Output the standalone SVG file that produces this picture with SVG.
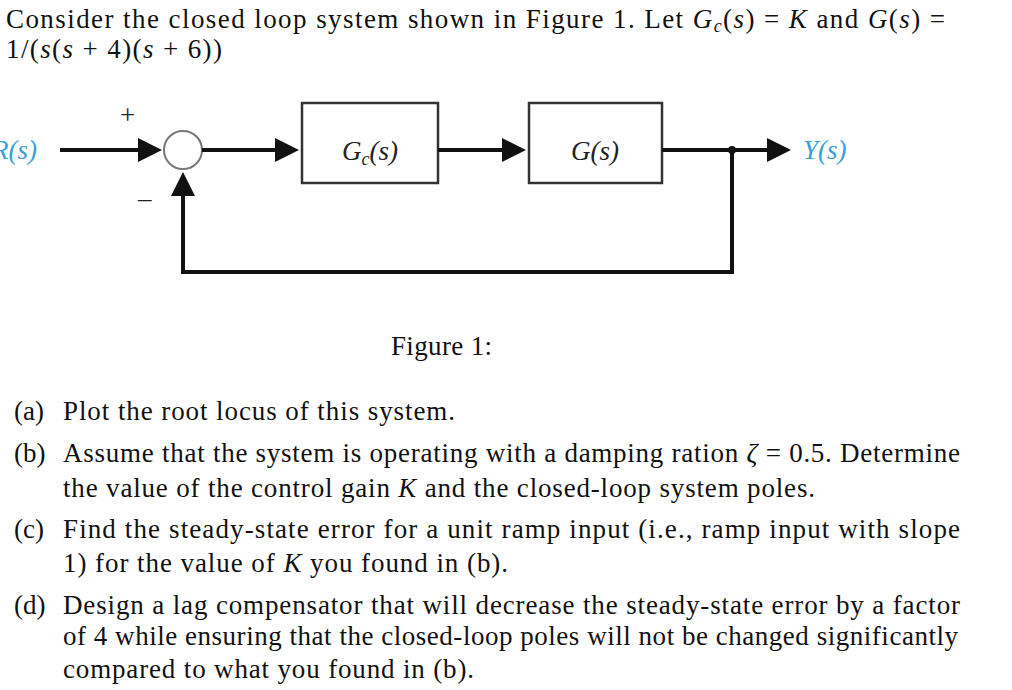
<svg xmlns="http://www.w3.org/2000/svg" width="1012" height="690" viewBox="0 0 1012 690">
<style>
.t{font-family:"Liberation Serif",serif;font-size:27px;fill:#111}
.d{font-family:"Liberation Serif",serif;font-size:27px;fill:#222}
.b{font-family:"Liberation Serif",serif;font-size:27px;fill:#3aa0d8;font-style:italic}
.l{stroke:#111;stroke-width:4;fill:none}
.box{stroke:#333;stroke-width:2.5;fill:#fff}
</style>
<defs><marker id="a" markerWidth="6" markerHeight="6" refX="5" refY="3" orient="auto" markerUnits="strokeWidth"><path d="M0,0L6,3L0,6Z" fill="#111"/></marker></defs>
<rect width="1012" height="690" fill="#fff"/>
<text class="t" x="6" y="28" textLength="939" lengthAdjust="spacing">Consider the closed loop system shown in Figure 1.  Let <tspan font-style="italic">G</tspan><tspan font-style="italic" font-size="18" dy="4">c</tspan><tspan dy="-4">(</tspan><tspan font-style="italic">s</tspan>) = <tspan font-style="italic">K</tspan> and <tspan font-style="italic">G</tspan>(<tspan font-style="italic">s</tspan>) =</text>
<text class="t" x="6" y="58" textLength="216" lengthAdjust="spacing">1/(<tspan font-style="italic">s</tspan>(<tspan font-style="italic">s</tspan> + 4)(<tspan font-style="italic">s</tspan> + 6))</text>
<g id="R"><text class="b" x="-8" y="159">R(s)</text></g>
<g id="sum"><circle cx="183" cy="150" r="19" fill="#fff" stroke="#777" stroke-width="2"/><text class="d" x="120" y="124" font-size="24">+</text><text class="d" x="138" y="207" font-size="24">–</text></g>
<g id="Gc"><rect class="box" x="302" y="103" width="136" height="80"/><text class="d" x="370" y="160" text-anchor="middle" font-style="italic">G<tspan font-size="18" dy="5">c</tspan><tspan dy="-5">(s)</tspan></text></g>
<g id="G"><rect class="box" x="529" y="103" width="133" height="80"/><text class="d" x="595" y="160" text-anchor="middle" font-style="italic">G(s)</text></g>
<g id="Y"><text class="b" x="803" y="159">Y(s)</text></g>
<g id="connectors">
<line class="l" x1="60" y1="150" x2="158" y2="150" marker-end="url(#a)"/>
<line class="l" x1="202" y1="150" x2="295" y2="150" marker-end="url(#a)"/>
<line class="l" x1="438" y1="150" x2="522" y2="150" marker-end="url(#a)"/>
<line class="l" x1="662" y1="150" x2="787" y2="150" marker-end="url(#a)"/>
<polyline class="l" points="732,150 732,272 183,272 183,176" marker-end="url(#a)"/>
<circle cx="732" cy="150" r="4" fill="#111"/>
</g>
<text class="t" x="391" y="355" textLength="101" lengthAdjust="spacing">Figure 1:</text>
<text class="t" x="14" y="420">(a)</text><text class="t" x="63" y="420" textLength="392" lengthAdjust="spacing">Plot the root locus of this system.</text>
<text class="t" x="14" y="462">(b)</text><text class="t" x="63" y="462" textLength="897" lengthAdjust="spacing">Assume that the system is operating with a damping ration <tspan font-style="italic">ζ</tspan> = 0.5. Determine</text>
<text class="t" x="63" y="497" textLength="752" lengthAdjust="spacing">the value of the control gain <tspan font-style="italic">K</tspan> and the closed-loop system poles.</text>
<text class="t" x="14" y="538">(c)</text><text class="t" x="63" y="538" textLength="897" lengthAdjust="spacing">Find the steady-state error for a unit ramp input (i.e., ramp input with slope</text>
<text class="t" x="63" y="572" textLength="445" lengthAdjust="spacing">1) for the value of <tspan font-style="italic">K</tspan> you found in (b).</text>
<text class="t" x="14" y="614">(d)</text><text class="t" x="63" y="614" textLength="897" lengthAdjust="spacing">Design a lag compensator that will decrease the steady-state error by a factor</text>
<text class="t" x="63" y="645" textLength="895" lengthAdjust="spacing">of 4 while ensuring that the closed-loop poles will not be changed significantly</text>
<text class="t" x="63" y="678" textLength="411" lengthAdjust="spacing">compared to what you found in (b).</text>
</svg>
